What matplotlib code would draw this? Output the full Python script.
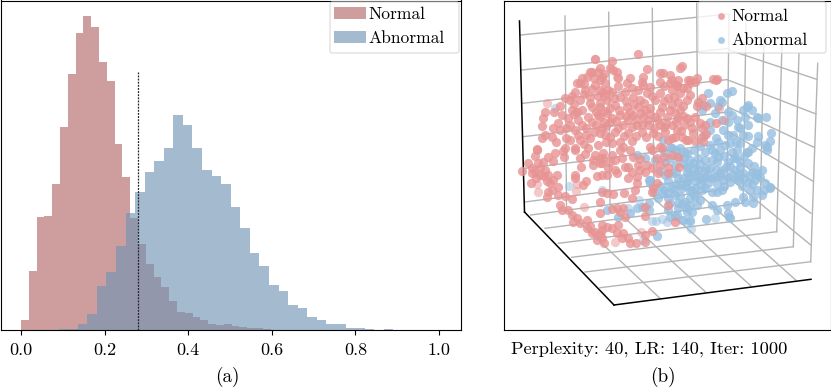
import numpy as np
import matplotlib
matplotlib.use("Agg")
import matplotlib.pyplot as plt
from matplotlib.patches import FancyBboxPatch
from matplotlib.transforms import IdentityTransform

plt.rcParams["font.family"] = ["cmr10", "DejaVu Serif"]
plt.rcParams["axes.formatter.use_mathtext"] = True
plt.rcParams["axes.unicode_minus"] = False

# ===============================
# (a) histogram, values
# ===============================
normal_start = 0.0
normal_width = 0.01866
normal_heights = [28, 176, 337, 340, 435, 606, 768, 889, 940, 906, 802, 744, 556, 458, 336, 256,
                  198, 158, 128, 85, 52, 50, 38, 30, 16, 14, 18, 10, 8, 6, 4, 3]

abnormal_start = 0.0898
abnormal_width = 0.02289
abnormal_heights = [1, 2, 18, 46, 130, 172, 252, 350, 413, 472, 506, 543, 642, 612, 545, 478, 460,
                    437, 369, 304, 229, 192, 133, 116, 74, 66, 38, 28, 16, 16, 6, 6, 3, 0, 3]

threshold = 0.2806
threshold_top = 772
hist_ticks = [0.0, 0.2, 0.4, 0.6, 0.8, 1.0]

# ===============================
# (b) t-SNE cloud, positions
# ===============================
normal_top = [(638, 54), (595, 59), (612, 61), (600, 68), (610, 68), (617, 72), (647, 69), (643, 77),
               (682, 66), (680, 68), (663, 73), (670, 75), (590, 72), (580, 83), (587, 77), (600, 80),
               (618, 78), (630, 78), (627, 83), (643, 85), (660, 82), (670, 83), (677, 86), (690, 80),
               (697, 78), (717, 79), (713, 79), (690, 83), (613, 70), (602, 77), (605, 83), (608, 90),
               (600, 90), (642, 82), (660, 73), (678, 80), (688, 80), (687, 88), (695, 82), (716, 80)]
normal_band = [(620, 97), (633, 97), (647, 93), (660, 93), (672, 90), (680, 93), (683, 88), (677, 85),
               (607, 100), (615, 105), (627, 107), (638, 107), (650, 108), (662, 107), (672, 105),
               (678, 102), (600, 107), (607, 113), (620, 115), (633, 115), (643, 117), (655, 117),
               (667, 117), (675, 113), (600, 117), (610, 122), (623, 125), (637, 125), (648, 125),
               (660, 125), (672, 125), (602, 128), (615, 132), (628, 133), (642, 132), (653, 133),
               (665, 132), (672, 138), (675, 137), (682, 137), (688, 140), (605, 135), (620, 142),
               (632, 141), (612, 143), (623, 147), (650, 147), (660, 147), (690, 95), (687, 100),
               (702, 98), (698, 102), (697, 106), (706, 106), (695, 117), (687, 118), (690, 122),
               (700, 123), (716, 123), (705, 125), (692, 128), (702, 128), (693, 133), (706, 134),
               (702, 137), (695, 141), (703, 141), (686, 140), (684, 125), (680, 110), (612, 92),
               (625, 92), (640, 100), (655, 100), (668, 98), (612, 118), (628, 120), (645, 110)]
normal_fill = [(614, 98), (626, 101), (634, 104), (644, 103), (652, 96), (664, 101), (674, 97), (683, 106),
               (604, 96), (610, 108), (619, 110), (630, 112), (641, 113), (650, 114), (660, 112), (670, 110),
               (678, 118), (604, 111), (616, 121), (626, 116), (636, 119), (648, 120), (658, 120), (666, 124),
               (676, 122), (683, 116), (606, 126), (618, 128), (632, 127), (642, 125), (654, 128), (664, 127),
               (677, 130), (610, 137), (624, 136), (636, 136), (646, 137), (658, 136), (668, 140), (681, 131),
               (598, 96), (592, 89), (590, 103), (584, 84), (596, 112), (592, 122), (582, 125), (574, 114),
               (570, 125), (578, 135), (584, 144), (594, 132), (606, 142), (566, 138), (572, 96), (598, 72),
               (604, 74), (664, 86), (672, 80), (638, 90), (650, 87), (618, 86), (632, 88), (594, 78)]
normal_left = [(592, 72), (577, 83), (582, 78), (575, 92), (585, 90), (595, 85), (603, 92), (570, 100),
               (580, 100), (590, 97), (600, 103), (572, 110), (582, 110), (592, 107), (568, 118),
               (578, 120), (588, 117), (598, 115), (566, 128), (575, 130), (586, 128), (596, 125),
               (604, 122), (570, 140), (580, 140), (590, 138), (600, 133), (565, 148), (575, 150),
               (588, 148), (598, 145), (562, 115), (560, 130), (556, 142), (545, 135), (565, 98),
               (560, 106), (545, 112), (554, 112), (543, 118), (542, 126), (553, 128), (558, 123),
               (542, 138), (552, 137), (537, 149), (584, 94), (574, 104), (586, 135), (577, 112)]
normal_low = [(537, 150), (535, 156), (563, 151), (555, 153), (575, 148), (564, 157), (548, 157),
              (553, 161), (528, 163), (543, 162), (522, 171), (532, 168), (540, 168), (535, 172),
              (545, 170), (532, 173), (540, 175), (548, 175), (547, 181), (557, 175), (531, 183),
              (550, 183), (558, 187), (548, 192), (547, 197), (558, 195), (565, 196), (560, 205),
              (562, 210), (572, 199), (575, 175), (575, 178), (586, 181), (583, 185), (580, 158),
              (585, 154), (595, 155), (593, 160), (600, 158), (581, 167), (593, 165), (600, 163),
              (597, 176), (602, 175), (568, 210), (572, 215), (577, 218), (573, 222), (580, 223),
              (587, 220), (587, 228), (595, 232), (600, 234), (597, 240), (592, 233), (603, 153),
              (603, 158), (612, 155), (620, 150), (630, 150), (622, 158), (633, 157), (625, 167),
              (615, 170), (602, 163), (607, 175), (617, 173), (628, 167), (638, 165), (647, 165),
              (662, 148), (652, 150), (657, 158), (668, 167), (679, 167), (672, 155), (678, 157),
              (652, 168), (658, 173), (668, 173), (628, 178), (637, 177), (637, 183), (657, 183),
              (653, 188), (652, 192), (602, 192), (613, 194), (624, 193), (635, 190), (607, 193),
              (632, 198), (668, 205), (600, 202), (623, 208), (617, 208), (612, 209), (625, 217),
              (620, 212), (645, 216), (645, 207), (675, 222), (652, 231), (645, 235), (602, 225),
              (607, 227), (618, 225), (612, 228), (617, 233), (623, 233), (622, 238), (628, 238),
              (630, 243), (636, 243), (645, 242), (602, 238), (602, 230), (600, 213),
              (538, 163), (544, 176), (536, 178), (553, 180), (552, 190), (610, 162), (640, 159), (660, 165),
              (664, 157), (640, 170), (615, 160), (608, 168), (632, 172), (645, 172), (590, 226), (604, 243)]
normal_faint = [(595, 59), (547, 103), (537, 184), (538, 192), (584, 207), (577, 184), (576, 191),
                (615, 242), (641, 232), (719, 108), (724, 120), (617, 77)]

abnormal_upper = [(708, 93), (727, 93), (732, 91), (710, 103), (718, 106), (722, 102), (702, 110),
                  (715, 113), (728, 112), (732, 115), (748, 105), (743, 110), (752, 110), (766, 117),
                  (737, 120), (745, 117), (758, 118), (771, 133), (710, 122), (728, 122), (738, 127),
                  (748, 125), (723, 130), (733, 135), (743, 135), (757, 142), (765, 145), (770, 141),
                  (767, 150), (730, 143), (740, 143), (748, 152), (732, 152), (718, 142), (715, 153),
                  (705, 152), (705, 160), (693, 163), (717, 162), (728, 162), (740, 162), (748, 163),
                  (752, 172), (760, 177), (688, 167), (698, 170), (710, 168), (722, 170), (735, 170),
                  (743, 173), (685, 153), (688, 175), (705, 177), (715, 177), (728, 177), (737, 178),
                  (703, 105), (720, 100), (747, 107), (757, 117), (767, 147), (747, 152), (720, 150),
                  (687, 167), (670, 147), (663, 140), (650, 180), (667, 193), (700, 177), (720, 173),
                  (740, 167), (757, 173), (770, 187), (725, 145), (737, 150), (710, 145), (698, 158)]
abnormal_lower = [(692, 175), (702, 180), (712, 178), (723, 180), (738, 180), (748, 182), (757, 175),
                  (765, 183), (770, 188), (757, 190), (762, 195), (753, 197), (753, 203), (743, 197),
                  (745, 202), (735, 202), (727, 205), (717, 192), (692, 190), (700, 200),
                  (690, 198), (697, 205), (717, 210), (728, 213), (730, 218), (706, 219), (687, 208),
                  (705, 188), (687, 182), (695, 188), (672, 148), (680, 148), (687, 153), (670, 158),
                  (683, 163), (658, 198), (662, 193), (668, 198), (675, 195), (682, 188), (685, 202),
                  (678, 208), (672, 188), (649, 180), (649, 203), (642, 207), (637, 208), (649, 210),
                  (607, 210), (618, 217), (630, 213), (670, 217), (657, 236), (645, 158), (655, 160),
                  (665, 162), (637, 155), (650, 183), (687, 172), (678, 178), (672, 173), (680, 185),
                  (687, 182), (677, 215), (729, 217), (690, 221), (683, 220), (675, 216), (687, 212),
                  (665, 175), (675, 165), (695, 197), (750, 190), (712, 205)]
abnormal_fill = [(678, 156), (690, 160), (700, 164), (712, 160), (724, 156), (734, 158), (744, 156), (754, 166),
                 (676, 172), (683, 178), (694, 168), (704, 171), (716, 170), (726, 167), (738, 174), (750, 176),
                 (762, 170), (668, 181), (676, 184), (695, 181), (708, 183), (717, 184), (730, 182), (742, 186),
                 (752, 184), (660, 186), (670, 203), (680, 196), (690, 191), (702, 190), (712, 192), (722, 190),
                 (755, 180), (764, 190), (660, 171), (690, 205), (678, 203), (716, 138), (728, 135), (736, 142),
                 (748, 136), (758, 136), (704, 135), (694, 150), (710, 130), (722, 120), (740, 128), (752, 148),
                 (736, 158), (700, 146), (712, 150), (708, 175), (664, 152), (676, 150), (692, 212), (668, 210),
                 (684, 158), (696, 174), (720, 176), (732, 174), (744, 178), (686, 186), (700, 184), (724, 186),
                 (674, 190), (664, 190), (654, 192), (682, 204), (694, 194), (706, 168), (730, 166), (718, 157)]
abnormal_faint = [(668, 187), (639, 200), (628, 208), (652, 221), (656, 221), (662, 219), (667, 222),
                  (682, 220), (687, 222), (643, 240), (715, 218), (690, 220), (691, 229), (569, 186),
                  (602, 190), (555, 108), (577, 112)]

# grid of the 3d box, as seen in the picture: (x0, y0, x1, y1)
axis_lines = [(519.5, 21, 524.5, 212), (524.5, 212, 614, 305), (614, 305, 811, 279.3)]
back_wall = [(520.7, 35, 729, 14), (521.7, 70, 729, 48.4), (522.7, 103.3, 728, 79.5),
             (523.3, 136.7, 728, 112), (524, 168.5, 727.5, 143), (524.6, 202, 727, 176),
             (565, 16, 566.5, 210), (608.7, 12.3, 610, 204.5), (652.3, 8.3, 654, 198.5),
             (696.7, 3.3, 698, 193), (729, 14, 727, 189)]
side_wall = [(729, 50, 816.7, 79.3), (728, 80, 816, 114), (728, 107, 814, 147.3), (727.5, 131, 812.7, 181),
             (727, 153, 811, 213.3), (727, 176, 810.7, 245), (746, 23.5, 743, 203), (764, 33.5, 760, 218),
             (782, 43.5, 776.7, 231.7), (799, 53, 793.3, 246.7), (817.7, 63.3, 810.7, 261.7)]
floor = [(530.7, 215, 727, 189), (545, 228.3, 743, 203), (558.3, 243.3, 760, 218),
         (571.7, 257.3, 776.7, 231.7), (585, 272, 793.3, 246.7), (600, 287.7, 810.7, 261.7),
         (660, 298.3, 566.5, 210), (705.3, 291.7, 610, 204.5), (750.7, 285.7, 654, 198.5),
         (795.7, 280, 698, 193)]

# ===============================
# Figure
# ===============================
W, H = 831, 388
fig = plt.figure(figsize=(W / 100, H / 100), dpi=100)

pink = "#b56b6b"
steel = "#6f93b3"
scatter_pink = "#e89393"
scatter_blue = "#97bfe0"


# both legends are wider than their text in the original, so the box is drawn apart
def legend_box(axis, handles, labels, left, right, **kw):
    axis.add_patch(FancyBboxPatch((left, H - 53), right - left, 51, boxstyle="round,pad=0,rounding_size=2.5",
                                  facecolor="white", edgecolor="#d8d8d8", lw=1, alpha=0.8, zorder=4,
                                  transform=IdentityTransform()))
    leg = axis.legend(handles, labels, loc="upper left", bbox_to_anchor=(left, H - 3), bbox_transform=IdentityTransform(),
                      borderaxespad=0, fontsize=12.6, frameon=False, labelspacing=0.5, **kw)
    leg.set_zorder(5)


ax = fig.add_axes([0.5 / W, (H - 329.5) / H, 460.5 / W, 329 / H])
normal_edges = normal_start + normal_width * np.arange(len(normal_heights))
abnormal_edges = abnormal_start + abnormal_width * np.arange(len(abnormal_heights))
ax.bar(normal_edges, normal_heights, width=normal_width, align="edge", color=pink, alpha=0.65,
       linewidth=0, label="Normal")
ax.bar(abnormal_edges, abnormal_heights, width=abnormal_width, align="edge", color=steel, alpha=0.63,
       linewidth=0, label="Abnormal")
ax.plot([threshold, threshold], [0, threshold_top], color="#222222", lw=0.9, ls=(0, (1.5, 1)))
ax.set_xlim(-0.049, 1.0526)
ax.set_ylim(0, 987)
ax.set_yticks([])
ax.set_xticks(hist_ticks)
ax.set_xticklabels(["%.1f" % t for t in hist_ticks], fontsize=13)
ax.tick_params(axis="x", length=3.5, width=0.8, pad=6)
h, l = ax.get_legend_handles_labels()
legend_box(ax, h, l, 330, 459, handlelength=1.85, handleheight=0.7, handletextpad=0.12, borderpad=0.2)

bx = fig.add_axes([503.5 / W, (H - 330) / H, 327 / W, 329.5 / H])
bx.set_xlim(503.5, 830.5)
bx.set_ylim(330, 0.5)
bx.set_xticks([])
bx.set_yticks([])

for x0, y0, x1, y1 in back_wall + side_wall + floor:
    bx.plot([x0, x1], [y0, y1], color="#b4b4b4", lw=1.0, zorder=1)
for x0, y0, x1, y1 in axis_lines:
    bx.plot([x0, x1], [y0, y1], color="black", lw=1.1, zorder=1.5)


def draw_cloud(points, color, alpha, z, label=None):
    xs = [p[0] for p in points]
    ys = [p[1] for p in points]
    bx.scatter(xs, ys, s=44, color=color, alpha=alpha, linewidths=0, zorder=z, label=label)


draw_cloud(abnormal_faint, scatter_blue, 0.5, 2)
draw_cloud(abnormal_upper + abnormal_lower + abnormal_fill, scatter_blue, 0.8, 2.2, "Abnormal")
draw_cloud(normal_faint, scatter_pink, 0.5, 3)
draw_cloud(normal_top + normal_band + normal_fill + normal_left + normal_low, scatter_pink, 0.8, 3.2, "Normal")

h, l = bx.get_legend_handles_labels()
legend_box(bx, h[::-1], l[::-1], 698, 826, handlelength=2.0, handletextpad=-0.4, borderpad=0.3, markerscale=0.75)

fig.text(649 / W, 1 - 349 / H, "Perplexity: 40, LR: 140, Iter: 1000", ha="center", va="center", fontsize=13.3)
fig.text(227 / W, 1 - 377 / H, "(a)", ha="center", va="center", fontsize=13.8)
fig.text(662.5 / W, 1 - 377 / H, "(b)", ha="center", va="center", fontsize=13.8)

fig.savefig("out.png", dpi=100)
